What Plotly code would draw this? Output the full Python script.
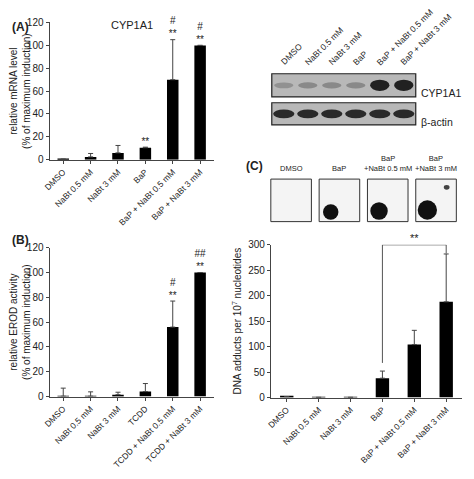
import plotly.graph_objects as go

cats_a = ["DMSO", "NaBt 0.5 mM", "NaBt 3 mM", "BaP", "BaP + NaBt 0.5 mM", "BaP + NaBt 3 mM"]
vals_a = [0.5, 2.5, 6, 10.5, 70, 100]
err_a = [0, 3, 6.5, 0.5, 35, 0]
sig_a = ["", "", "", "**", "#<br>**", "#<br>**"]

cats_b = ["DMSO", "NaBt 0.5 mM", "NaBt 3 mM", "TCDD", "TCDD + NaBt 0.5 mM", "TCDD + NaBt 3 mM"]
vals_b = [0.3, 0.3, 1.5, 4, 56, 100]
err_b = [6.5, 3.5, 2, 6.5, 21, 0]
sig_b = ["", "", "", "", "#<br>**", "##<br>**"]

cats_c = ["DMSO", "NaBt 0.5 mM", "NaBt 3 mM", "BaP", "BaP + NaBt 0.5 mM", "BaP + NaBt 3 mM"]
vals_c = [1.5, 0.3, 0.3, 38, 104, 188]
err_c = [0.5, 0, 0, 14, 28, 94]

blot_lanes = ["DMSO", "NaBt 0.5 mM", "NaBt 3 mM", "BaP", "BaP + NaBt 0.5 mM", "BaP + NaBt 3 mM"]
cyp_band = [0.25, 0.3, 0.3, 0.3, 0.95, 0.95]
dot_labels = ["DMSO", "BaP", "BaP<br>+NaBt 0.5 mM", "BaP<br>+NaBt 3 mM"]

W, H = 474, 479
def px(x): return x / W
def py(y): return 1 - y / H

FONT = "Liberation Sans, Arial, sans-serif"
INK = "#222222"
fig = go.Figure()
for i, (c, v, e) in enumerate([(cats_a, vals_a, err_a), (cats_b, vals_b, err_b), (cats_c, vals_c, err_c)]):
    ax = "" if i == 0 else str(i + 1)
    fig.add_trace(go.Bar(x=c, y=v, xaxis="x" + ax, yaxis="y" + ax, width=0.42,
                         marker=dict(color="black", line=dict(width=0)),
                         error_y=dict(type="data", array=e, symmetric=False, color="#444",
                                      thickness=1, width=2.5),
                         showlegend=False))
for c, v, e, s, ax in [(cats_a, vals_a, err_a, sig_a, ""), (cats_b, vals_b, err_b, sig_b, "2")]:
    fig.add_trace(go.Scatter(x=c, y=[a + b for a, b in zip(v, e)], text=s, mode="text",
                             textposition="top center", textfont=dict(size=10, color=INK),
                             xaxis="x" + ax, yaxis="y" + ax, showlegend=False, cliponaxis=False))
fig.add_trace(go.Scatter(x=[cats_c[3], cats_c[3], cats_c[5], cats_c[5]], y=[68, 300, 300, 283],
                         mode="lines", line=dict(color="#555", width=1), xaxis="x3", yaxis="y3",
                         showlegend=False, cliponaxis=False))
fig.add_trace(go.Scatter(x=[cats_c[4]], y=[300], text=["**"], mode="text", textposition="top center",
                         textfont=dict(size=11, color=INK), xaxis="x3", yaxis="y3",
                         showlegend=False, cliponaxis=False))

def xa(d):
    return dict(domain=d, tickangle=-45, tickfont=dict(size=8.5, family=FONT, color=INK),
                showline=True, linecolor="#444", ticks="outside", ticklen=3, tickcolor="#444",
                showgrid=False, zeroline=False, fixedrange=True, automargin=False)
def ya(d, r, dt, title, anchor):
    return dict(domain=d, range=r, dtick=dt, anchor=anchor, showline=True, linecolor="#444",
                ticks="outside", ticklen=3, tickcolor="#444", showgrid=False, zeroline=False,
                automargin=False, tickfont=dict(size=10, family=FONT, color=INK),
                title=dict(text=title, font=dict(size=10, family=FONT, color=INK), standoff=4))

fig.update_layout(
    width=W - 16, height=H - 16, margin=dict(l=0, r=0, t=0, b=0),
    plot_bgcolor="white", paper_bgcolor="white", font=dict(family=FONT, color=INK),
    xaxis=dict(**xa([px(43), px(213)]), anchor="y"),
    yaxis=ya([py(157), py(15)], [0, 120], 20, "relative mRNA level<br>(% of maximum induction)", "x"),
    xaxis2=dict(**xa([px(43), px(213)]), anchor="y2"),
    yaxis2=ya([py(402), py(248)], [0, 120], 20, "relative EROD activity<br>(% of maximum induction)", "x2"),
    xaxis3=dict(**xa([px(272), px(470)]), anchor="y3"),
    yaxis3=ya([py(403), py(245)], [0, 300], 50, "DNA adducts per 10<sup>7</sup> nucleotides", "x3"),
)

ann = []
shapes = []
def A(x, y, text, **kw):
    d = dict(x=px(x), y=py(y), xref="paper", yref="paper", text=text, showarrow=False, xanchor="center")
    d.update(kw)
    ann.append(d)

A(2, 10, "<b>(A)</b>", xanchor="left", font=dict(size=12))
A(128, 9, "CYP1A1", font=dict(size=11))
A(2, 240, "<b>(B)</b>", xanchor="left", font=dict(size=12))
A(244, 163, "<b>(C)</b>", xanchor="left", font=dict(size=12))

bx0, bx1 = 273, 422
lw = (bx1 - bx0) / 6
for y0, y1 in [(68, 92), (98, 121)]:
    shapes.append(dict(type="rect", xref="paper", yref="paper", x0=px(bx0), x1=px(bx1), y0=py(y1), y1=py(y0),
                       fillcolor="#b8b8b8", line=dict(color="#222", width=1.2)))
for i, lane in enumerate(blot_lanes):
    cx = bx0 + lw * (i + 0.5)
    A(cx - 8, 64, lane, textangle=-45, xanchor="left", yanchor="bottom", font=dict(size=8.5))
    g = int(185 - 160 * cyp_band[i])
    shapes.append(dict(type="circle", xref="paper", yref="paper", x0=px(cx - 10), x1=px(cx + 10),
                       y0=py(80 + 2 + 4 * cyp_band[i]), y1=py(80 - 2 - 4 * cyp_band[i]),
                       fillcolor=f"rgb({g},{g},{g})", line=dict(width=0)))
    shapes.append(dict(type="circle", xref="paper", yref="paper", x0=px(cx - 11), x1=px(cx + 11),
                       y0=py(114), y1=py(105), fillcolor="#2a2a2a", line=dict(width=0)))
A(425, 80, "CYP1A1", xanchor="left", font=dict(size=10.5))
A(425, 110, "β-actin", xanchor="left", font=dict(size=10.5))

sq = [272, 322, 372, 422]
for i, x0 in enumerate(sq):
    shapes.append(dict(type="rect", xref="paper", yref="paper", x0=px(x0), x1=px(x0 + 42), y0=py(221), y1=py(177),
                       fillcolor="#f4f4f4", line=dict(color="#333", width=1)))
    A(x0 + 21, 173, dot_labels[i], yanchor="bottom", font=dict(size=7.5))
    if i > 0:
        r = 7 + i
        shapes.append(dict(type="circle", xref="paper", yref="paper", x0=px(x0 + 12 - r), x1=px(x0 + 12 + r),
                           y0=py(219), y1=py(219 - 2 * r), fillcolor="#111", line=dict(width=0)))
shapes.append(dict(type="circle", xref="paper", yref="paper", x0=px(451), x1=px(457), y0=py(188), y1=py(183),
                   fillcolor="#444", line=dict(width=0)))
fig.update_layout(annotations=ann, shapes=shapes)
fig.write_html("out.html")
